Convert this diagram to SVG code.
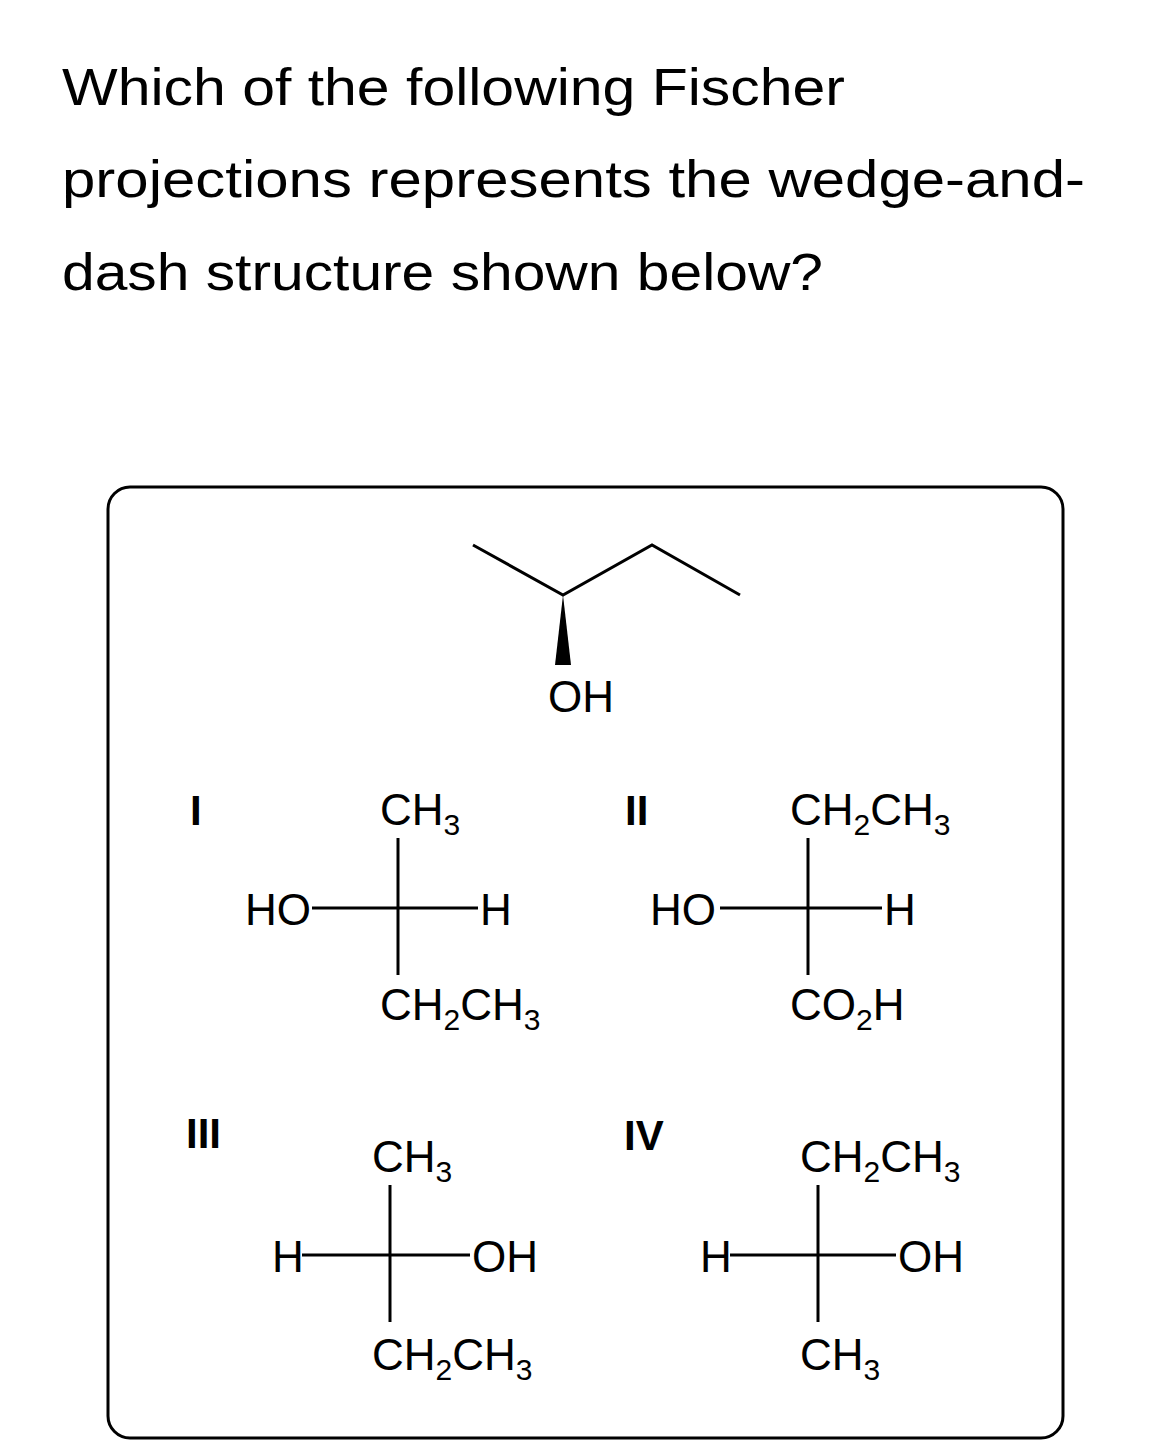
<svg xmlns="http://www.w3.org/2000/svg" width="1170" height="1441" viewBox="0 0 1170 1441">
<style>
.q{font-family:"Liberation Sans",Arial,sans-serif;font-size:52px;fill:#000}
.c{font-family:"Liberation Sans",Arial,sans-serif;font-size:44px;fill:#000}
.s{font-size:30px}
.l{font-family:"Liberation Sans",Arial,sans-serif;font-size:42px;font-weight:bold;fill:#000}
.b{stroke:#000;stroke-width:3;fill:none}
</style>
<rect width="1170" height="1441" fill="#fff"/>
<text class="q" x="62" y="105" textLength="783" lengthAdjust="spacingAndGlyphs">Which of the following Fischer</text>
<text class="q" x="62" y="197" textLength="1023" lengthAdjust="spacingAndGlyphs">projections represents the wedge-and-</text>
<text class="q" x="62" y="290" textLength="761" lengthAdjust="spacingAndGlyphs">dash structure shown below?</text>
<rect x="108" y="487" width="955" height="951" rx="22" fill="none" stroke="#000" stroke-width="3"/>
<g id="skeletal">
<polyline class="b" points="473,545 563,595 652,545 740,595"/>
<polygon points="563,595 555,665 571,665" fill="#000"/>
<text class="c" x="548" y="712">OH</text>
</g>
<g id="I">
<text class="l" x="190" y="825">I</text>
<text class="c" x="380" y="825">CH<tspan class="s" dy="10">3</tspan></text>
<line class="b" x1="398" y1="838" x2="398" y2="975"/>
<line class="b" x1="312" y1="908" x2="478" y2="908"/>
<text class="c" x="245" y="925">HO</text>
<text class="c" x="480" y="925">H</text>
<text class="c" x="380" y="1020">CH<tspan class="s" dy="10">2</tspan><tspan dy="-10">CH</tspan><tspan class="s" dy="10">3</tspan></text>
</g>
<g id="II">
<text class="l" x="625" y="825">II</text>
<text class="c" x="790" y="825">CH<tspan class="s" dy="10">2</tspan><tspan dy="-10">CH</tspan><tspan class="s" dy="10">3</tspan></text>
<line class="b" x1="808" y1="838" x2="808" y2="975"/>
<line class="b" x1="720" y1="908" x2="882" y2="908"/>
<text class="c" x="650" y="925">HO</text>
<text class="c" x="884" y="925">H</text>
<text class="c" x="790" y="1020">CO<tspan class="s" dy="10">2</tspan><tspan dy="-10">H</tspan></text>
</g>
<g id="III">
<text class="l" x="186" y="1148">III</text>
<text class="c" x="372" y="1172">CH<tspan class="s" dy="10">3</tspan></text>
<line class="b" x1="390" y1="1185" x2="390" y2="1322"/>
<line class="b" x1="302" y1="1255" x2="470" y2="1255"/>
<text class="c" x="272" y="1272">H</text>
<text class="c" x="472" y="1272">OH</text>
<text class="c" x="372" y="1370">CH<tspan class="s" dy="10">2</tspan><tspan dy="-10">CH</tspan><tspan class="s" dy="10">3</tspan></text>
</g>
<g id="IV">
<text class="l" x="624" y="1150">IV</text>
<text class="c" x="800" y="1172">CH<tspan class="s" dy="10">2</tspan><tspan dy="-10">CH</tspan><tspan class="s" dy="10">3</tspan></text>
<line class="b" x1="818" y1="1185" x2="818" y2="1322"/>
<line class="b" x1="730" y1="1255" x2="896" y2="1255"/>
<text class="c" x="700" y="1272">H</text>
<text class="c" x="898" y="1272">OH</text>
<text class="c" x="800" y="1370">CH<tspan class="s" dy="10">3</tspan></text>
</g>
</svg>
